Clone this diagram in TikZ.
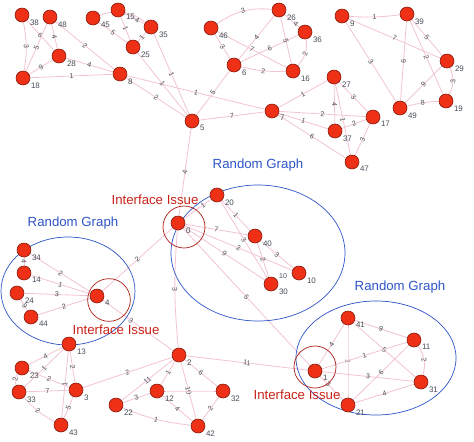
\documentclass[tikz,border=0pt]{standalone}
\usepackage{fontspec}
\setmainfont{Liberation Sans}
\usetikzlibrary{backgrounds}

\definecolor{nodered}{RGB}{238,48,22}
\definecolor{nodeedge}{RGB}{130,25,10}
\definecolor{linkpink}{RGB}{242,196,210}
\definecolor{labgray}{RGB}{70,78,88}
\definecolor{grpblue}{RGB}{45,85,200}
\definecolor{issuered}{RGB}{200,35,25}

\begin{document}
\begin{tikzpicture}[x=0.03cm, y=-0.03cm,
  vert/.style={circle, draw=nodeedge, fill=nodered, line width=0.5pt,
               minimum size=0.42cm, inner sep=0pt},
  nlab/.style={font=\fontsize{6.8}{7}\selectfont, text=labgray, inner sep=1pt},
  elab/.style={font=\fontsize{6}{7}\selectfont, text=labgray, sloped, inner sep=0.5pt},
  edge/.style={linkpink, line width=0.7pt},
  grp/.style={grpblue, line width=0.6pt},
  issue/.style={issuered!85!black, line width=0.6pt},
  grptext/.style={font=\fontsize{11.3}{13}\selectfont, text=grpblue},
  issuetext/.style={font=\fontsize{11.3}{13}\selectfont, text=issuered}
]
  \useasboundingbox (0,0) rectangle (474,441);

  % Vertices (pixel positions of the layout)
  \foreach \n/\x/\y in {38/22/15, 48/50/17, 28/59/56, 18/23/78, 8/120/74,
      45/93/18, 15/118/10, 35/151/27, 25/133/47, 5/192/121,
      46/211/28, 26/279/10, 36/305/32, 6/234/65, 16/293/71,
      9/342/16, 39/407/14, 29/447/61, 19/446/101, 49/400/108,
      27/334/77, 17/373/117, 7/272/111, 37/335/131, 47/352/162,
      0/178/223, 20/217/195, 40/255/236, 10/299/273, 30/271/284,
      34/24/250, 14/24/273, 24/17/293, 44/31/317, 4/97/296,
      13/69/344, 23/22/368, 33/19/392, 3/76/390, 43/61/425,
      22/116/405, 12/157/391, 2/179/355, 32/223/391, 42/198/426,
      1/315/371, 41/348/318, 11/414/340, 31/421/382, 21/348/405}
    \node[vert, label={[nlab]-25:\n}] (n\n) at (\x,\y) {};

  \node[elab, sloped=false] (extra10) at (283,276) {10};

  \begin{scope}[on background layer]
    % Weighted links
    \foreach \a/\b/\w/\bd in {38/18/3/10, 38/28/6/0, 48/18/5/0, 48/28/4/0,
        48/8/2/0, 28/18/9/0, 28/8/4/0, 18/8/1/0, 45/35/2/30, 45/25/5/0,
        15/25/1/0, 25/35/1/0, 8/5/2/0, 8/7/1/0, 35/5/1/0,
        25/5/1/0, 6/5/5/0, 5/7/7/0, 5/0/4/0,
        46/26/3/20, 46/6/3/0, 26/6/4/0, 46/16/7/0, 36/6/6/0,
        26/16/5/0, 36/16/2/25, 6/16/2/-8, 7/27/1/0,
        9/39/1/-5, 9/29/7/0, 9/49/3/0, 39/49/6/0, 39/29/5/0, 39/19/2/0,
        29/49/9/0, 29/19/3/25, 49/19/8/6, 27/17/3/0, 27/37/4/0, 27/47/1/0,
        7/17/2/0, 37/17/2/0, 7/37/1/0, 7/47/6/0, 17/47/3/0,
        0/40/7/0, 20/40/1/0, 20/30/3/0, 0/30/9/0, 0/10/2/0,
        40/30/2/0, 40/10/3/0, 0/1/5/0, 0/2/3/-5, 0/4/2/0,
        34/4/2/0, 14/4/1/0, 24/4/3/0, 44/4/2/0, 34/14/4/0,
        13/23/4/0, 13/33/1/0, 13/3/2/0, 23/3/2/0, 33/3/7/0, 13/43/1/0,
        3/43/5/0, 23/33/2/-30, 33/43/2/-10, 3/2/2/0, 22/2/11/0, 22/12/3/0,
        22/42/1/-8, 12/2/1/0, 2/42/10/0, 2/32/6/0, 12/42/4/0, 32/42/2/0,
        12/32//0, 2/1/11/0,
        1/41/4/0, 41/11/9/0, 41/31/5/0, 41/21/1/0, 1/11/1/0, 11/21/6/0,
        11/31/2/25, 1/31/3/0, 21/31/4/0}
      \draw[edge] (n\a) to[bend left=\bd] node[elab] {\w} (n\b);
    % links whose weight sits off the middle
    \draw[edge] (n26) -- node[elab, pos=0.76] {4} (n36);
    \draw[edge] (n15) -- node[elab, pos=0.64] {4} (n35);
    \draw[edge] (n0) -- node[elab, pos=0.7] {1} (n20);
    \draw[edge] (n4) -- node[elab, pos=0.4] {3} (n2);
    \draw[edge] (n1) -- node[elab, pos=0.36] {3} (n21);
    \draw[edge] (n24) -- node[elab, pos=0.62] {9} (n44);

    % Groups and problem spots
    \draw[grp] (258,253) ellipse [x radius=2.61cm, y radius=2.04cm];
    \draw[grp] (68,291) ellipse [x radius=2.01cm, y radius=1.62cm];
    \draw[grp] (376,358) ellipse [x radius=2.4cm, y radius=1.71cm];
    \draw[issue] (184,227) circle [radius=0.63cm];
    \draw[issue] (109,300) circle [radius=0.64cm];
    \draw[issue] (315,367) circle [radius=0.63cm];
  \end{scope}

  \node[grptext] (rgmid) at (258,165) {Random Graph};
  \node[grptext] (rgleft) at (73,223) {Random Graph};
  \node[grptext] (rgright) at (400,287) {Random Graph};
  \node[issuetext] (iimid) at (155,200) {Interface Issue};
  \node[issuetext] (iileft) at (116,330) {Interface Issue};
  \node[issuetext] (iiright) at (297,395) {Interface Issue};
\end{tikzpicture}
\end{document}
